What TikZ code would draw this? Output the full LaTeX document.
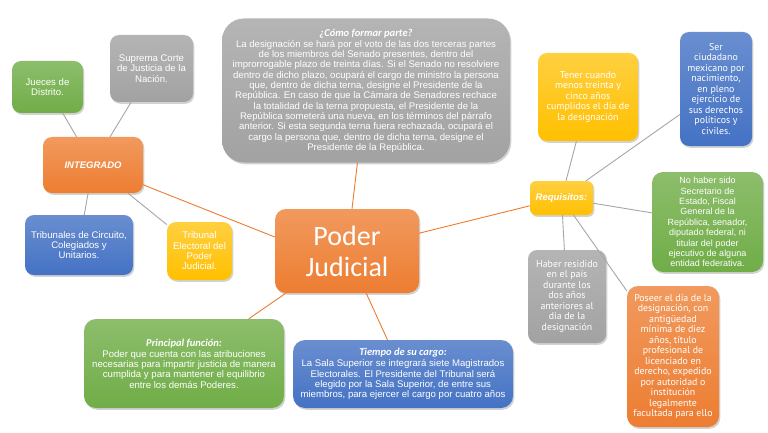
\documentclass[tikz,border=0pt]{standalone}
\usepackage{fontspec}
\setmainfont{Liberation Sans}
\newfontfamily\calibfont{Carlito}
\newfontfamily\ptfont{PT Sans}
\usetikzlibrary{shadows}
\definecolor{offorange}{HTML}{ED7D31}
\definecolor{offgray}{HTML}{A2A2A2}
\definecolor{offgold}{HTML}{FFC000}
\definecolor{offblue}{HTML}{4472C4}
\definecolor{offgreen}{HTML}{70AD47}
\definecolor{linkgray}{HTML}{A6A6A6}

\begin{document}
\begin{tikzpicture}[
    x=1pt, y=-1pt,
    base/.style={align=center, text=white, rounded corners=9pt, inner sep=2pt,
      font=\fontsize{9.6}{10.3}\selectfont,
      drop shadow={shadow xshift=1.3pt, shadow yshift=-1.8pt, opacity=0.35}},
    orangebox/.style={base, top color=offorange!78!white, bottom color=offorange},
    graybox/.style={base, top color=offgray!80!white, bottom color=offgray},
    goldbox/.style={base, top color=offgold!75!white, bottom color=offgold},
    bluebox/.style={base, top color=offblue!80!white, bottom color=offblue},
    greenbox/.style={base, top color=offgreen!80!white, bottom color=offgreen},
    pttext/.style={font=\ptfont\fontsize{9.9}{10.5}\selectfont},
    link/.style={draw=linkgray, line width=0.9pt},
    mainlink/.style={draw=offorange, line width=0.9pt}
  ]
    \fill[white] (0,0) rectangle (768,433);
    \useasboundingbox (0,0) rectangle (768,433);

    % centre
    \node[orangebox, minimum width=144pt, minimum height=84pt, rounded corners=11pt,
      font=\calibfont\fontsize{28}{31}\selectfont] (pj) at (347,251) {Poder\\Judicial};

    % top
    \node[graybox, minimum width=288pt, minimum height=144pt, rounded corners=22pt] (forma) at (366,90.5)
    {{\calibfont\fontsize{10.5}{11}\selectfont\bfseries\itshape ¿Cómo formar parte?}\\[1pt]
     La designación se hará por el voto de las dos terceras partes\\
     de los miembros del Senado presentes, dentro del\\
     improrrogable plazo de treinta días. Si el Senado no resolviere\\
     dentro de dicho plazo, ocupará el cargo de ministro la persona\\
     que, dentro de dicha terna, designe el Presidente de la\\
     República. En caso de que la Cámara de Senadores rechace\\
     la totalidad de la terna propuesta, el Presidente de la\\
     República someterá una nueva, en los términos del párrafo\\
     anterior. Si esta segunda terna fuera rechazada, ocupará el\\
     cargo la persona que, dentro de dicha terna, designe el\\
     Presidente de la República.};

    % integrado
    \node[orangebox, minimum width=100pt, minimum height=56pt,
      font=\fontsize{9.5}{11}\selectfont\bfseries\itshape] (integ) at (93,165) {INTEGRADO};
    \node[greenbox, minimum width=71pt, minimum height=52pt] (jueces) at (47.5,87) {Jueces de\\Distrito.};
    \node[graybox, minimum width=83pt, minimum height=67pt] (corte) at (151.5,68.5)
    {Suprema Corte\\de Justicia de la\\Nación.};
    \node[bluebox, minimum width=108pt, minimum height=60pt] (circ) at (79,245)
    {Tribunales de Circuito,\\Colegiados y\\Unitarios.};
    \node[goldbox, minimum width=65pt, minimum height=58pt] (tele) at (199.5,251)
    {Tribunal\\Electoral del\\Poder\\Judicial.};

    % bottom
    \node[greenbox, minimum width=200pt, minimum height=89pt, rounded corners=12pt] (func) at (184,363.5)
    {{\calibfont\fontsize{10.5}{11}\selectfont\bfseries\itshape Principal función:}\\[1pt]
     Poder que cuenta con las atribuciones\\
     necesarias para impartir justicia de manera\\
     cumplida y para mantener el equilibrio\\
     entre los demás Poderes.};
    \node[bluebox, minimum width=220pt, minimum height=68pt, rounded corners=12pt] (tiempo) at (403,374)
    {{\calibfont\fontsize{10.5}{11}\selectfont\bfseries\itshape Tiempo de su cargo:}\\[1pt]
     La Sala Superior se integrará siete Magistrados\\
     Electorales. El Presidente del Tribunal será\\
     elegido por la Sala Superior, de entre sus\\
     miembros, para ejercer el cargo por cuatro años};

    % requisitos
    \node[goldbox, minimum width=63pt, minimum height=34pt, rounded corners=6pt,
      font=\fontsize{9.5}{11}\selectfont\bfseries\itshape] (req) at (561.5,198) {Requisitos:};
    \node[goldbox, pttext, minimum width=100pt, minimum height=88pt] (edad) at (588,97)
    {Tener cuando\\menos treinta y\\cinco años\\cumplidos el día de\\la designación};
    \node[bluebox, pttext, minimum width=72pt, minimum height=114pt] (ciud) at (716,89)
    {Ser\\ciudadano\\mexicano por\\nacimiento,\\en pleno\\ejercicio de\\sus derechos\\políticos y\\civiles.};
    \node[greenbox, minimum width=111pt, minimum height=100pt, rounded corners=11pt,
      font=\fontsize{9}{10.4}\selectfont] (cargo) at (707.5,222)
    {No haber sido\\Secretario de\\Estado, Fiscal\\General de la\\República, senador,\\diputado federal, ni\\titular del poder\\ejecutivo de alguna\\entidad federativa.};
    \node[graybox, pttext, minimum width=78pt, minimum height=93pt] (resid) at (567,296.5)
    {Haber residido\\en el país\\durante los\\dos años\\anteriores al\\día de la\\designación};
    \node[orangebox, pttext, minimum width=92pt, minimum height=141pt, rounded corners=11pt] (titulo) at (673,356.5)
    {Poseer el día de la\\designación, con\\antigüedad\\mínima de diez\\años, título\\profesional de\\licenciado en\\derecho, expedido\\por autoridad o\\institución\\legalmente\\facultada para ello};

    % connectors
    \draw[mainlink] (forma) -- (pj);
    \draw[mainlink] (integ) -- ([yshift=14pt]pj.west);
    \draw[mainlink] (pj) -- (req);
    \draw[mainlink] (pj) -- (func);
    \draw[mainlink] (pj) -- (tiempo);
    \draw[link] (integ) -- (jueces);
    \draw[link] (integ) -- (corte);
    \draw[link] (integ) -- (circ);
    \draw[link] (integ) -- (tele);
    \draw[link] (req) -- (edad);
    \draw[link] (req) -- (ciud);
    \draw[link] (req) -- (cargo);
    \draw[link] (req) -- (resid);
    \draw[link] (req) -- (titulo);
\end{tikzpicture}
\end{document}
